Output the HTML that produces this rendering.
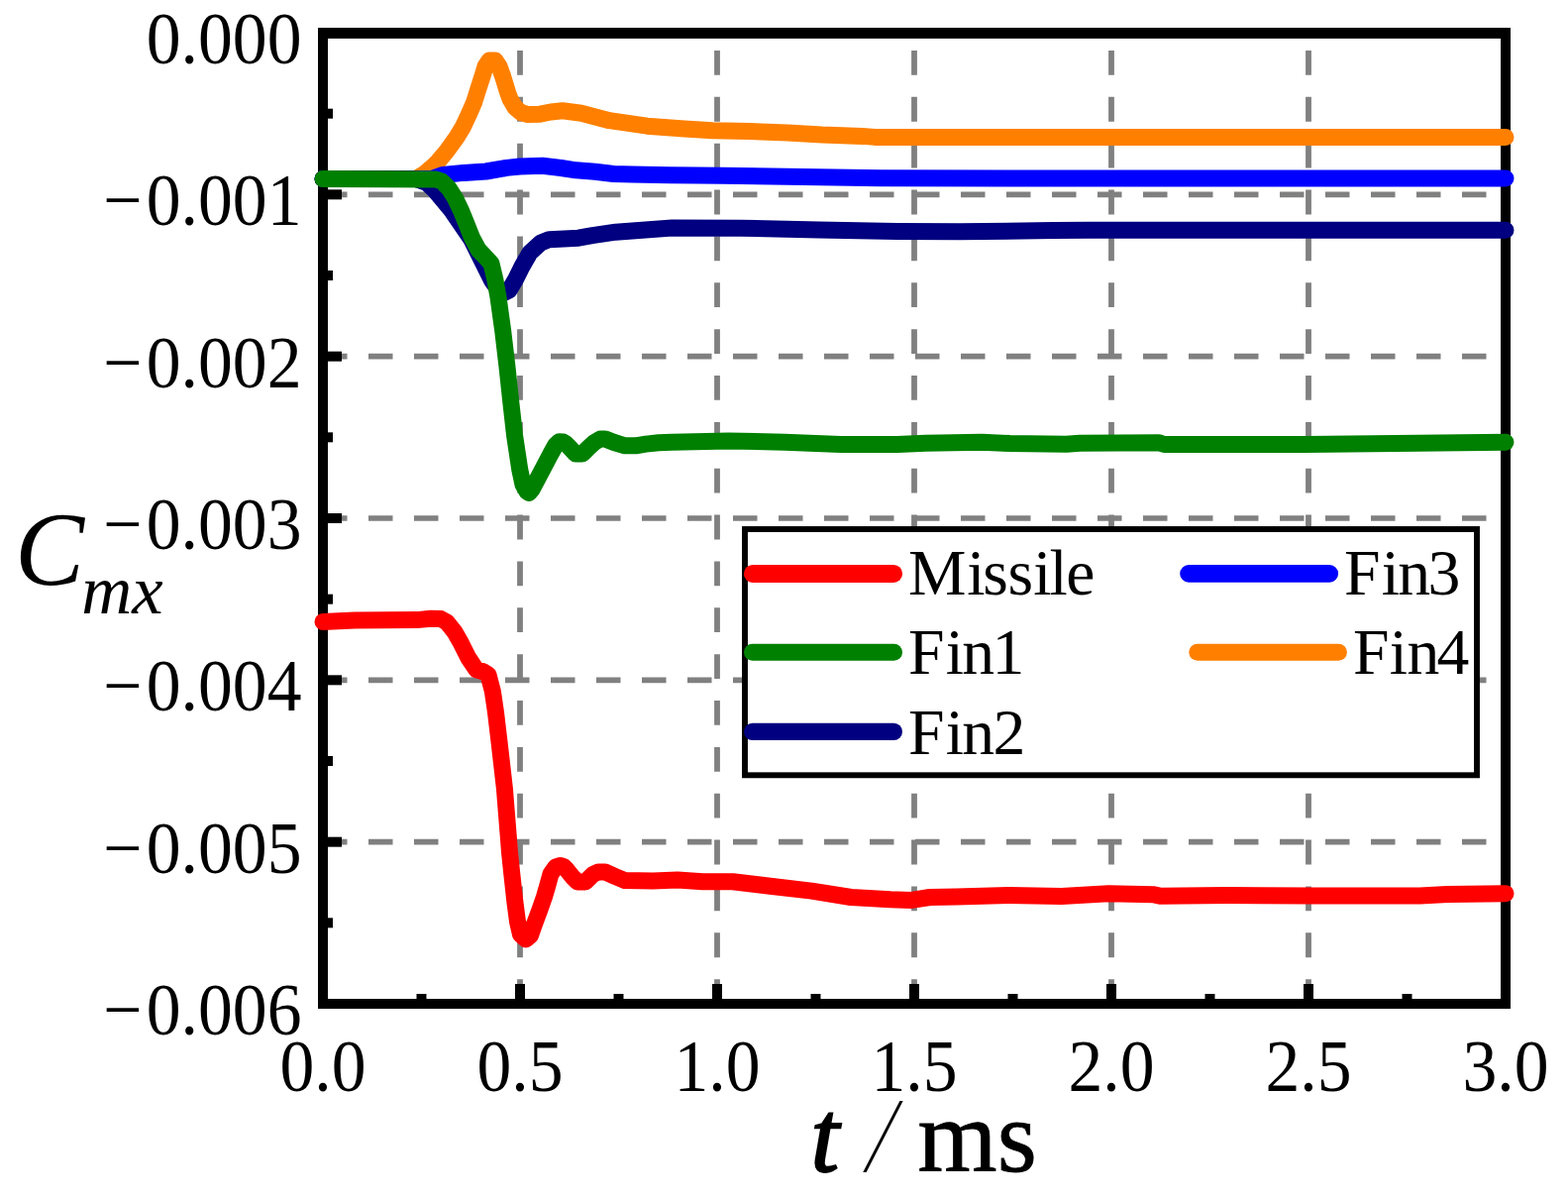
<!DOCTYPE html>
<html><head><meta charset="utf-8"><title>Cmx vs t</title>
<style>html,body{margin:0;padding:0;background:#fff;overflow:hidden;}svg{display:block;}</style></head>
<body>
<svg width="1583" height="1210" viewBox="0 0 1583 1210">
<rect width="1583" height="1210" fill="#fff"/>
<g stroke="#808080" stroke-width="5.6" stroke-dasharray="24.5 21.5"><line x1="326.0" y1="196.33" x2="1520.0" y2="196.33"/><line x1="326.0" y1="359.67" x2="1520.0" y2="359.67"/><line x1="326.0" y1="523.00" x2="1520.0" y2="523.00"/><line x1="326.0" y1="686.33" x2="1520.0" y2="686.33"/><line x1="326.0" y1="849.67" x2="1520.0" y2="849.67"/></g><g stroke="#808080" stroke-width="5.8" stroke-dasharray="24.8 22.06"><line x1="525.00" y1="1013.0" x2="525.00" y2="33.0"/><line x1="724.00" y1="1013.0" x2="724.00" y2="33.0"/><line x1="923.00" y1="1013.0" x2="923.00" y2="33.0"/><line x1="1122.00" y1="1013.0" x2="1122.00" y2="33.0"/><line x1="1321.00" y1="1013.0" x2="1321.00" y2="33.0"/></g>
<g stroke="#000" stroke-width="10"><line x1="330" y1="33.00" x2="345" y2="33.00"/><line x1="330" y1="114.67" x2="336" y2="114.67"/><line x1="330" y1="196.33" x2="345" y2="196.33"/><line x1="330" y1="278.00" x2="336" y2="278.00"/><line x1="330" y1="359.67" x2="345" y2="359.67"/><line x1="330" y1="441.33" x2="336" y2="441.33"/><line x1="330" y1="523.00" x2="345" y2="523.00"/><line x1="330" y1="604.67" x2="336" y2="604.67"/><line x1="330" y1="686.33" x2="345" y2="686.33"/><line x1="330" y1="768.00" x2="336" y2="768.00"/><line x1="330" y1="849.67" x2="345" y2="849.67"/><line x1="330" y1="931.33" x2="336" y2="931.33"/><line x1="330" y1="1013.00" x2="345" y2="1013.00"/><line x1="326.00" y1="1009" x2="326.00" y2="993"/><line x1="425.50" y1="1009" x2="425.50" y2="1003"/><line x1="525.00" y1="1009" x2="525.00" y2="993"/><line x1="624.50" y1="1009" x2="624.50" y2="1003"/><line x1="724.00" y1="1009" x2="724.00" y2="993"/><line x1="823.50" y1="1009" x2="823.50" y2="1003"/><line x1="923.00" y1="1009" x2="923.00" y2="993"/><line x1="1022.50" y1="1009" x2="1022.50" y2="1003"/><line x1="1122.00" y1="1009" x2="1122.00" y2="993"/><line x1="1221.50" y1="1009" x2="1221.50" y2="1003"/><line x1="1321.00" y1="1009" x2="1321.00" y2="993"/><line x1="1420.50" y1="1009" x2="1420.50" y2="1003"/><line x1="1520.00" y1="1009" x2="1520.00" y2="993"/></g>
<rect x="326.0" y="33.0" width="1194.0" height="980.0" fill="none" stroke="#000" stroke-width="10"/><rect x="330" y="37.5" width="1186" height="1.4" fill="#000"/>
<rect x="752" y="534" width="739" height="248.3" fill="#fff" stroke="#000" stroke-width="5.9"/>
<g stroke-linecap="round" fill="none">
<line x1="759.9" y1="578.9" x2="902.1" y2="578.9" stroke="#FF0000" stroke-width="18"/>
<line x1="759.5" y1="658.35" x2="902.5" y2="658.35" stroke="#008000" stroke-width="17"/>
<line x1="759.6" y1="738.4" x2="902.4" y2="738.4" stroke="#000080" stroke-width="17.2"/>
<line x1="1200" y1="578.9" x2="1342.3" y2="578.9" stroke="#0000FF" stroke-width="17.6"/>
<line x1="1208.8" y1="658.35" x2="1351.4" y2="658.35" stroke="#FF8000" stroke-width="17"/>
</g>
<g font-family="'Liberation Serif', 'Times New Roman', serif" font-size="65.7" fill="#000">
<text x="916.9 976.2 992.3 1017.5 1043.2 1059.6 1076.2" y="600">Missile</text>
<text x="917.0 954.8 971.3 1001.4" y="680">Fin1</text>
<text x="917.0 954.8 971.3 1002.4" y="761">Fin2</text>
<text x="1357.0 1394.8 1411.3 1441.6" y="600">Fin3</text>
<text x="1366.0 1402.8 1420.4 1450.6" y="680">Fin4</text>
</g>
<g fill="none" stroke-width="17" stroke-linecap="round" stroke-linejoin="round">
<path d="M326.0,180.5 L420.0,180.5 L429.0,175.0 L436.0,169.0 L442.2,163.0 L450.9,152.6 L460.9,138.7 L467.3,128.3 L473.8,114.4 L478.8,102.8 L483.1,89.0 L487.0,77.0 L490.0,67.0 L494.0,61.0 L500.0,61.0 L504.0,67.0 L507.6,77.0 L512.5,93.0 L515.0,100.0 L520.0,108.5 L526.0,113.5 L533.0,115.6 L545.2,115.2 L556.0,113.0 L567.9,111.8 L586.9,114.2 L615.3,121.7 L653.2,127.2 L691.1,130.1 L719.5,131.7 L757.4,132.6 L795.3,133.9 L830.0,136.0 L870.5,137.4 L883.2,138.4 L1520.0,138.4" stroke="#FF8000"/><path d="M326.0,180.5 L436.0,180.5 L447.0,176.5 L468.0,174.4 L490.6,173.0 L511.5,169.4 L524.8,168.0 L547.5,167.3 L566.4,169.5 L581.6,171.8 L600.6,173.3 L619.5,175.5 L638.5,176.0 L676.4,176.8 L730.0,177.2 L794.8,178.2 L889.5,179.8 L1173.8,180.0 L1520.0,180.0" stroke="#0000FF"/><path d="M326.0,180.5 L420.0,180.5 L431.0,184.5 L438.8,191.8 L456.1,212.6 L475.8,241.5 L496.6,283.2 L503.0,292.0 L509.0,295.5 L514.0,293.0 L520.5,282.0 L527.1,268.8 L535.0,255.0 L545.7,245.2 L554.4,241.7 L584.0,240.2 L598.0,237.7 L621.6,234.2 L678.4,230.1 L747.9,230.2 L826.9,232.1 L905.9,233.4 L969.0,233.7 L1063.8,232.6 L1100.0,232.2 L1520.0,232.2" stroke="#000080"/><path d="M326.0,180.5 L440.0,181.0 L446.0,183.0 L453.0,189.9 L459.5,200.0 L465.7,213.0 L471.0,226.0 L476.7,240.3 L483.0,252.0 L490.0,259.3 L496.0,266.0 L499.8,282.0 L503.0,300.0 L507.8,334.7 L511.9,369.4 L515.6,404.2 L519.5,438.9 L524.7,473.6 L528.0,489.0 L532.0,496.0 L534.0,497.5 L537.0,494.0 L546.0,477.0 L556.0,458.0 L561.0,449.0 L564.5,445.8 L568.5,446.0 L571.0,447.5 L575.0,451.5 L581.0,458.0 L588.0,458.0 L594.0,452.0 L600.0,446.5 L606.0,443.0 L611.0,443.0 L620.0,446.5 L631.0,449.8 L641.7,449.8 L652.0,448.1 L665.0,446.8 L678.4,446.3 L735.3,444.9 L792.1,446.3 L849.0,448.5 L905.8,448.5 L934.3,447.2 L991.1,446.3 L1019.5,447.5 L1076.4,448.3 L1090.0,447.2 L1169.6,446.7 L1175.3,448.5 L1317.4,448.5 L1431.1,447.2 L1520.0,446.3" stroke="#008000"/><path d="M326.0,627.5 L358.0,626.0 L421.0,625.6 L435.0,624.2 L445.0,624.5 L451.4,628.2 L459.0,637.8 L465.0,648.2 L472.8,663.7 L480.9,675.9 L487.8,677.8 L493.0,681.0 L497.3,697.3 L500.5,719.1 L504.1,749.4 L509.4,795.7 L513.1,842.0 L514.5,860.0 L517.1,884.8 L519.8,909.6 L522.5,930.0 L525.5,943.0 L531.0,948.0 L535.5,944.0 L539.0,934.0 L545.0,917.9 L549.5,905.0 L553.0,893.0 L556.0,882.0 L561.0,875.0 L566.0,873.5 L569.0,874.5 L572.0,877.5 L578.0,885.0 L583.0,890.0 L591.0,890.0 L598.6,882.4 L604.0,880.0 L611.0,880.0 L621.0,884.5 L631.0,888.6 L659.0,889.0 L684.0,888.0 L709.5,889.7 L739.8,889.8 L779.6,894.5 L819.4,899.1 L859.2,905.5 L899.0,907.8 L920.2,908.4 L938.8,905.5 L965.3,905.1 L1018.4,903.5 L1071.5,904.4 L1119.2,901.8 L1163.9,902.7 L1172.0,904.3 L1239.0,903.6 L1322.0,904.0 L1433.5,903.9 L1461.3,902.4 L1520.0,901.7" stroke="#FF0000"/>
</g>
<g font-family="'Liberation Serif', 'Times New Roman', serif" font-size="74.6" fill="#000">
<g text-anchor="end"><text transform="translate(304.5,63.8) scale(0.934,1)">0.000</text><text transform="translate(304.5,227.1) scale(0.934,1)">−<tspan dx="4.7">0.001</tspan></text><text transform="translate(304.5,390.5) scale(0.934,1)">−<tspan dx="4.7">0.002</tspan></text><text transform="translate(304.5,553.8) scale(0.934,1)">−<tspan dx="4.7">0.003</tspan></text><text transform="translate(304.5,717.1) scale(0.934,1)">−<tspan dx="4.7">0.004</tspan></text><text transform="translate(304.5,880.5) scale(0.934,1)">−<tspan dx="4.7">0.005</tspan></text><text transform="translate(304.5,1043.8) scale(0.934,1)">−<tspan dx="4.7">0.006</tspan></text></g>
<g text-anchor="middle"><text transform="translate(326.0,1100.8) scale(0.934,1)">0.0</text><text transform="translate(525.0,1100.8) scale(0.934,1)">0.5</text><text transform="translate(724.0,1100.8) scale(0.934,1)">1.0</text><text transform="translate(923.0,1100.8) scale(0.934,1)">1.5</text><text transform="translate(1122.0,1100.8) scale(0.934,1)">2.0</text><text transform="translate(1321.0,1100.8) scale(0.934,1)">2.5</text><text transform="translate(1520.0,1100.8) scale(0.934,1)">3.0</text></g>
</g>
<g font-family="'Liberation Serif', 'Times New Roman', serif" fill="#000">
<text font-size="103" y="1182"><tspan x="818.5" font-style="italic" stroke="#000" stroke-width="2">t</tspan><tspan x="874.4" y="1182.8" font-size="110" font-style="italic" stroke="#fff" stroke-width="2.2">/</tspan><tspan x="926.6" y="1182" stroke="#000" stroke-width="0.8">ms</tspan></text>
<text font-style="italic"><tspan x="14.95" y="589.9" font-size="105">C</tspan><tspan x="82.35" y="618.9" font-size="70.6">mx</tspan></text>
</g>
</svg>
</body></html>
